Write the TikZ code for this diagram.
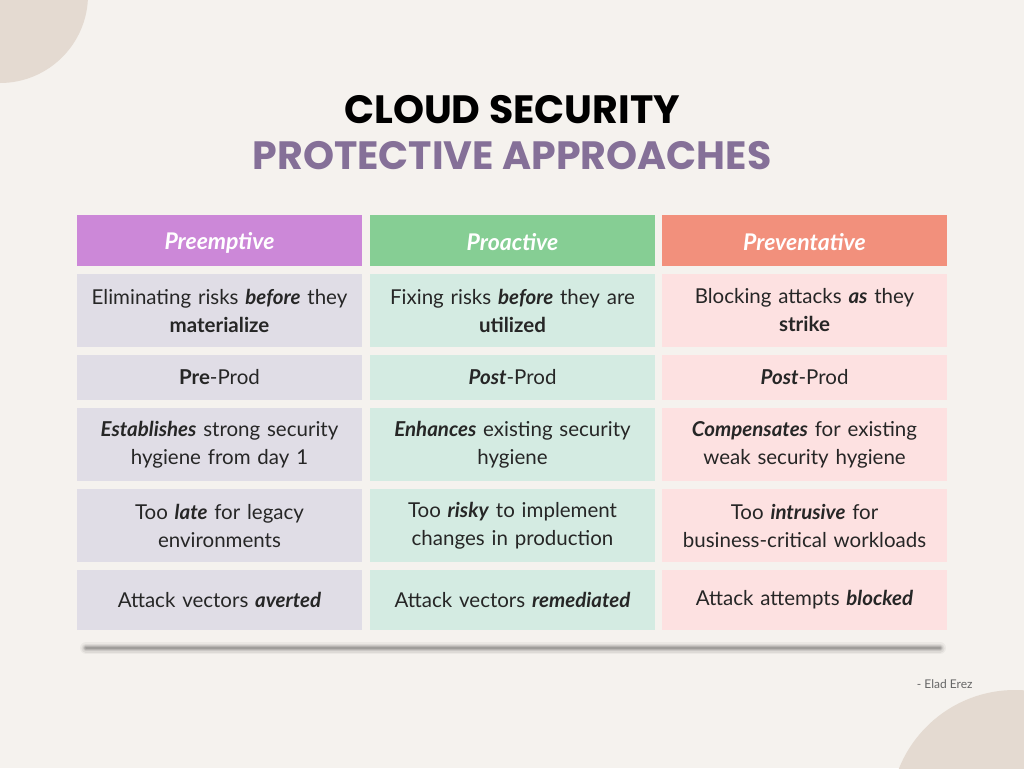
\documentclass[tikz,border=0pt]{standalone}
\usepackage{fontspec}
\setmainfont{Lato}
\newfontfamily\titlefont{Poppins}[UprightFont=* Bold]
\definecolor{bg}{HTML}{F5F2EE}
\definecolor{blob}{HTML}{E4DAD1}
\definecolor{hA}{HTML}{CC88D8}
\definecolor{hB}{HTML}{86CE94}
\definecolor{hC}{HTML}{F2907C}
\definecolor{cA}{HTML}{E0DDE6}
\definecolor{cB}{HTML}{D4EBE2}
\definecolor{cC}{HTML}{FDE1E1}
\definecolor{ttl}{HTML}{857098}
\begin{document}
\begin{tikzpicture}[x=1pt,y=-1pt,
  hdr/.style={minimum width=285pt,minimum height=51pt,inner sep=0pt,text=white,font=\fontsize{23}{26}\selectfont\bfseries\itshape},
  cell/.style={minimum width=285pt,inner sep=0pt,align=center,text width=284pt,font=\fontsize{20.5}{28}\selectfont,text=black!85}]
\fill[bg] (0,0) rectangle (1024,768);
\useasboundingbox (0,0) rectangle (1024,768);
\fill[blob] (0,-5) circle (88);
\fill[blob] (1015,815) circle (125);
\node[font=\titlefont\fontsize{39.5}{44}\selectfont] (t1) at (512,110) {CLOUD SECURITY};
\node[font=\titlefont\fontsize{39.5}{44}\selectfont,text=ttl] (t2) at (512,156) {PROTECTIVE APPROACHES};
\foreach \w/\o in {12/0.04,9/0.06,6/0.08,4/0.1,2/0.12}{
  \draw[line width=\w pt,black,opacity=\o,line cap=round] (86,648) -- (940,648);}
\foreach \x/\h/\c/\n in {219.5/hA/cA/a,512.5/hB/cB/b,804.5/hC/cC/c}{
  \node[hdr,fill=\h] (h\n) at (\x,240.5) {};
  \node[cell,fill=\c,minimum height=73pt] (r1\n) at (\x,310.5) {};
  \node[cell,fill=\c,minimum height=45pt] (r2\n) at (\x,377.5) {};
  \node[cell,fill=\c,minimum height=73pt] (r3\n) at (\x,444.5) {};
  \node[cell,fill=\c,minimum height=73pt] (r4\n) at (\x,525.5) {};
  \node[cell,fill=\c,minimum height=60pt] (r5\n) at (\x,600) {};
}
\node[hdr] at ([yshift=-2]ha) {Preemptive};
\node[hdr] at ([yshift=-2]hb) {Proactive};
\node[hdr] at ([yshift=-2]hc) {Preventative};
\node[cell] at (r1a) {Eliminating risks \textbf{\textit{before}} they\\\textbf{materialize}};
\node[cell] at (r1b) {Fixing risks \textbf{\textit{before}} they are\\\textbf{utilized}};
\node[cell] at (r1c) {Blocking attacks \textbf{\textit{as}} they\\\textbf{strike}};
\node[cell] at (r2a) {\textbf{Pre}-Prod};
\node[cell] at (r2b) {\textbf{\textit{Post}}-Prod};
\node[cell] at (r2c) {\textbf{\textit{Post}}-Prod};
\node[cell] at (r3a) {\textbf{\textit{Establishes}} strong security\\hygiene from day 1};
\node[cell] at (r3b) {\textbf{\textit{Enhances}} existing security\\hygiene};
\node[cell] at (r3c) {\textbf{\textit{Compensates}} for existing\\weak security hygiene};
\node[cell] at (r4a) {Too \textbf{\textit{late}} for legacy\\environments};
\node[cell] at (r4b) {Too \textbf{\textit{risky}} to implement\\changes in production};
\node[cell] at (r4c) {Too \textbf{\textit{intrusive}} for\\business-critical workloads};
\node[cell] at (r5a) {Attack vectors \textbf{\textit{averted}}};
\node[cell] at (r5b) {Attack vectors \textbf{\textit{remediated}}};
\node[cell] at (r5c) {Attack attempts \textbf{\textit{blocked}}};
\node[anchor=east,font=\fontsize{12}{14}\selectfont,text=black!60] (au) at (976,684) {- Elad Erez};
\end{tikzpicture}
\end{document}
